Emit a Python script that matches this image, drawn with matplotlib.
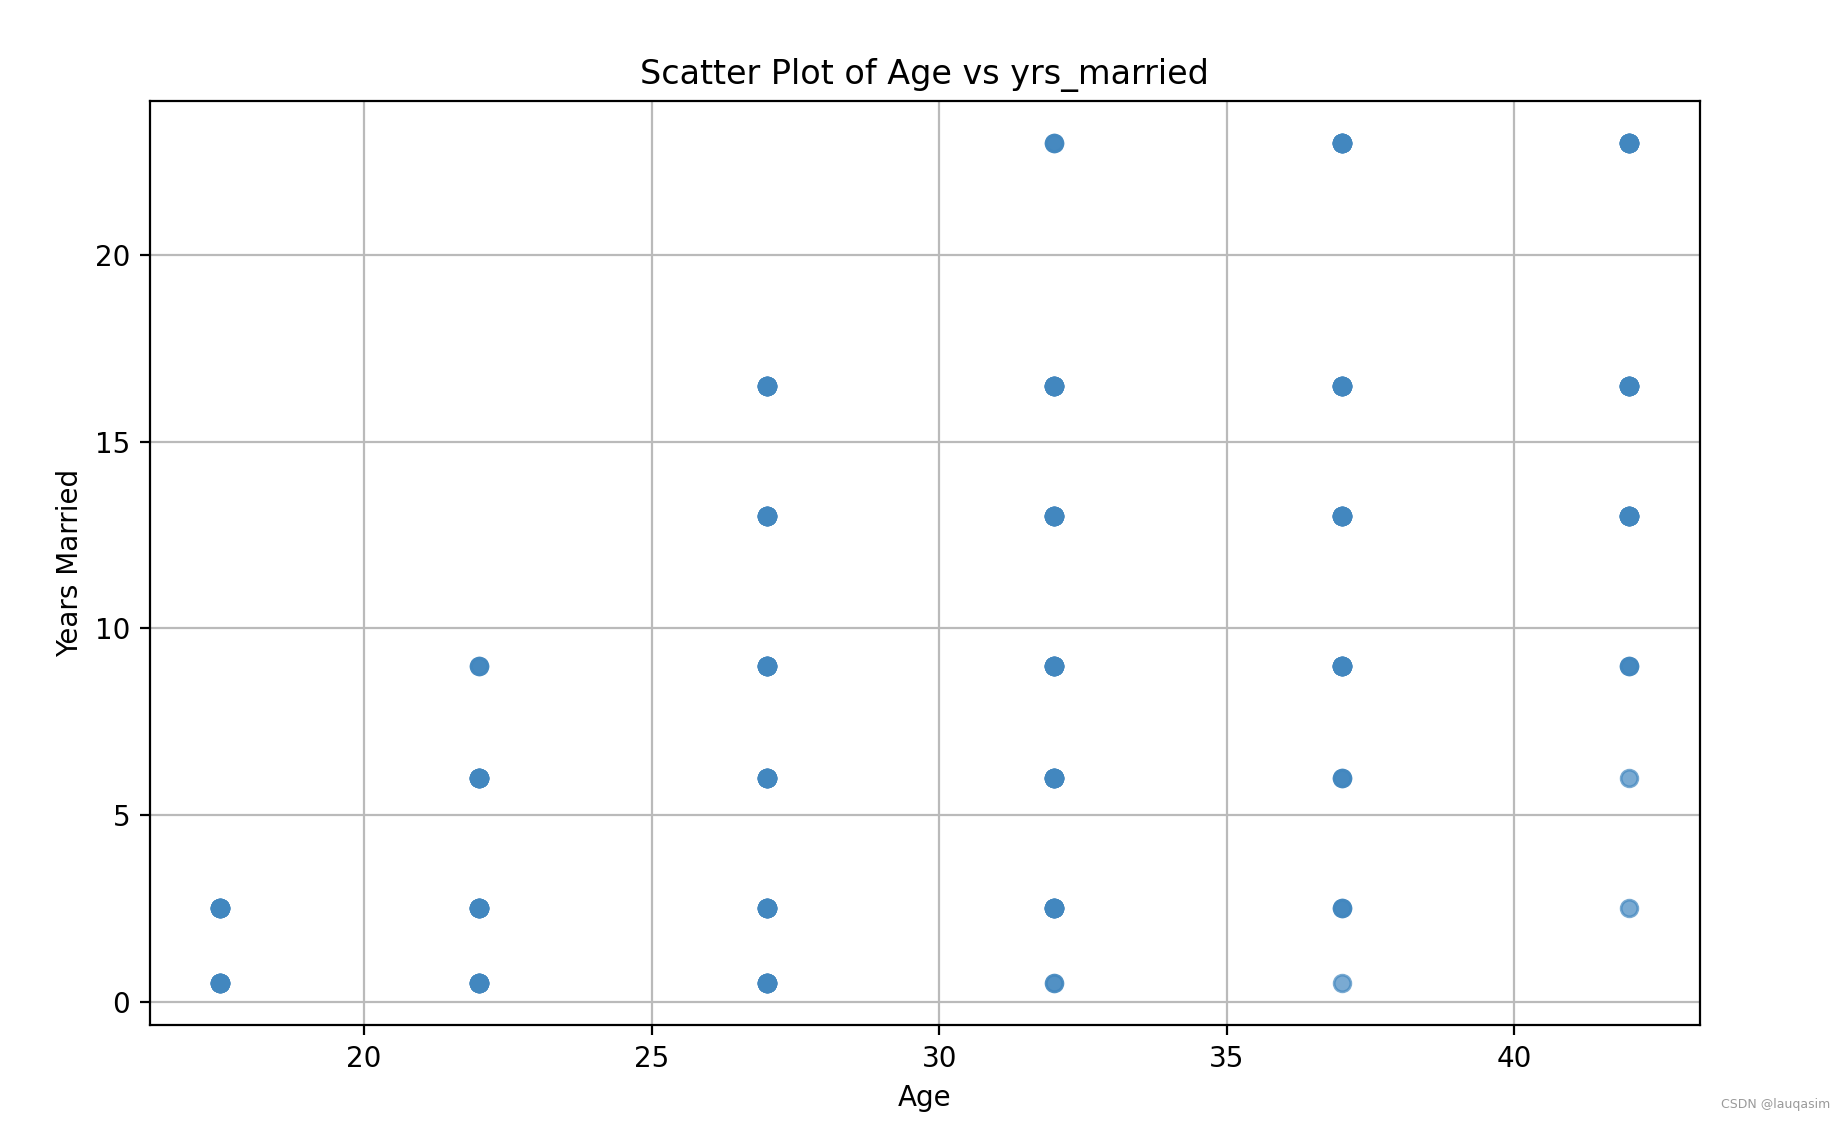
import numpy as np
import matplotlib
matplotlib.use("Agg")
import matplotlib.pyplot as plt

# unique (age, yrs_married) combinations and approximate overlap counts
ages = [17.5, 17.5,
        22, 22, 22, 22,
        27, 27, 27, 27, 27, 27,
        32, 32, 32, 32, 32, 32, 32,
        37, 37, 37, 37, 37, 37, 37,
        42, 42, 42, 42, 42, 42]
yrs_married = [0.5, 2.5,
               0.5, 2.5, 6, 9,
               0.5, 2.5, 6, 9, 13, 16.5,
               0.5, 2.5, 6, 9, 13, 16.5, 23,
               0.5, 2.5, 6, 9, 13, 16.5, 23,
               2.5, 6, 9, 13, 16.5, 23]
counts = [10, 10,
          10, 10, 10, 3,
          10, 10, 10, 10, 10, 10,
          2, 10, 10, 10, 10, 10, 3,
          1, 3, 3, 10, 10, 10, 10,
          1, 1, 3, 10, 10, 10]

x = np.repeat(ages, counts)
y = np.repeat(yrs_married, counts)

fig = plt.figure(figsize=(9.18, 5.62), dpi=200)
ax = fig.add_axes([0.0816, 0.0880, 0.8442, 0.822])
ax.scatter(x, y, alpha=0.7, color='#4287bf')
ax.set_title('Scatter Plot of Age vs yrs_married')
ax.set_xlabel('Age')
ax.set_ylabel('Years Married')
ax.grid(True, color='#bababa')
fig.text(0.997, 0.012, 'CSDN @lauqasim', ha='right', va='bottom', fontsize=4.5, color='#9a9a9a')
fig.savefig('out.png', dpi=200)
